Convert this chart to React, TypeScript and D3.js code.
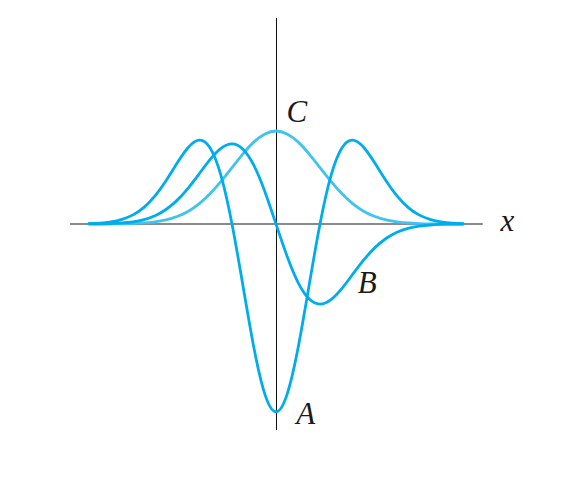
import * as d3 from 'd3';
import { useEffect, useRef } from 'react';

// sample positions along x (in units of the Gaussian width)
const xs = [
  -4.25, -4, -3.75, -3.5, -3.25, -3, -2.75, -2.5, -2.25, -2, -1.75, -1.5, -1.25, -1, -0.75, -0.5, -0.25,
  0, 0.25, 0.5, 0.75, 1, 1.25, 1.5, 1.75, 2, 2.25, 2.5, 2.75, 3, 3.25, 3.5, 3.75, 4, 4.25,
];

// C: bell curve
const curveC = [
  0, 0, 0.001, 0.002, 0.005, 0.011, 0.023, 0.044, 0.08, 0.135, 0.216, 0.325, 0.458, 0.607, 0.755, 0.883, 0.969,
  1, 0.969, 0.883, 0.755, 0.607, 0.458, 0.325, 0.216, 0.135, 0.08, 0.044, 0.023, 0.011, 0.005, 0.002, 0.001, 0, 0,
];

// B: hump on the left, trough on the right
const curveB = [
  0.001, 0.002, 0.005, 0.011, 0.023, 0.047, 0.089, 0.156, 0.254, 0.384, 0.537, 0.692, 0.813, 0.861, 0.804, 0.627, 0.344,
  0, -0.344, -0.627, -0.804, -0.861, -0.813, -0.692, -0.537, -0.384, -0.254, -0.156, -0.089, -0.047, -0.023, -0.011, -0.005, -0.002, -0.001,
];

// A: deep dip in the middle with two side lobes
const curveA = [
  0.004, 0.01, 0.023, 0.05, 0.098, 0.179, 0.302, 0.466, 0.653, 0.82, 0.901, 0.82, 0.52, 0, -0.667, -1.337, -1.835,
  -2.02, -1.835, -1.337, -0.667, 0, 0.52, 0.82, 0.901, 0.82, 0.653, 0.466, 0.302, 0.179, 0.098, 0.05, 0.023, 0.01, 0.004,
];

const labels = [
  { text: 'C', x: 0.24, y: 1.1 },
  { text: 'B', x: 1.86, y: -0.74 },
  { text: 'A', x: 0.46, y: -2.15 },
  { text: 'x', x: 5.1, y: -0.075 },
];

const App = () => {
  const svgRef = useRef<SVGSVGElement>(null);

  useEffect(() => {
    if (!svgRef.current) {
      return;
    }
    const svg = d3.select(svgRef.current);
    svg.selectAll('*').remove();

    const xScale = d3.scaleLinear().domain([-4.25, 4.25]).range([89, 463]);
    const yScale = d3.scaleLinear().domain([0, 1]).range([224, 131]);

    // axes
    svg
      .append('line')
      .attr('x1', xScale(-4.68))
      .attr('x2', xScale(4.7))
      .attr('y1', yScale(0))
      .attr('y2', yScale(0))
      .attr('stroke', '#8a8a8a')
      .attr('stroke-width', 1.8);

    svg
      .append('line')
      .attr('x1', xScale(0) + 0.5)
      .attr('x2', xScale(0) + 0.5)
      .attr('y1', yScale(2.215))
      .attr('y2', yScale(-2.215))
      .attr('stroke', '#111')
      .attr('stroke-width', 1);

    const line = d3
      .line<number>()
      .x((_, i) => xScale(xs[i]))
      .y((d) => yScale(d))
      .curve(d3.curveNatural);

    const series = [
      { values: curveC, color: '#41c3f0' },
      { values: curveB, color: '#00acec' },
      { values: curveA, color: '#00acec' },
    ];

    svg
      .selectAll('.curve')
      .data(series)
      .join('path')
      .attr('class', 'curve')
      .attr('d', (d) => line(d.values))
      .attr('fill', 'none')
      .attr('stroke', (d) => d.color)
      .attr('stroke-width', 2.8)
      .attr('stroke-linecap', 'round');

    svg
      .selectAll('.label')
      .data(labels)
      .join('text')
      .attr('class', 'label')
      .attr('x', (d) => xScale(d.x))
      .attr('y', (d) => yScale(d.y))
      .attr('fill', '#1a1a1a')
      .attr('font-family', '"Liberation Serif", serif')
      .attr('font-style', 'italic')
      .attr('font-size', '31px')
      .text((d) => d.text);
  }, []);

  return (
    <svg
      ref={svgRef}
      width={564}
      height={504}
      style={{ position: 'absolute', left: 0, top: 0, background: '#fff' }}
    />
  );
};

export default App;
